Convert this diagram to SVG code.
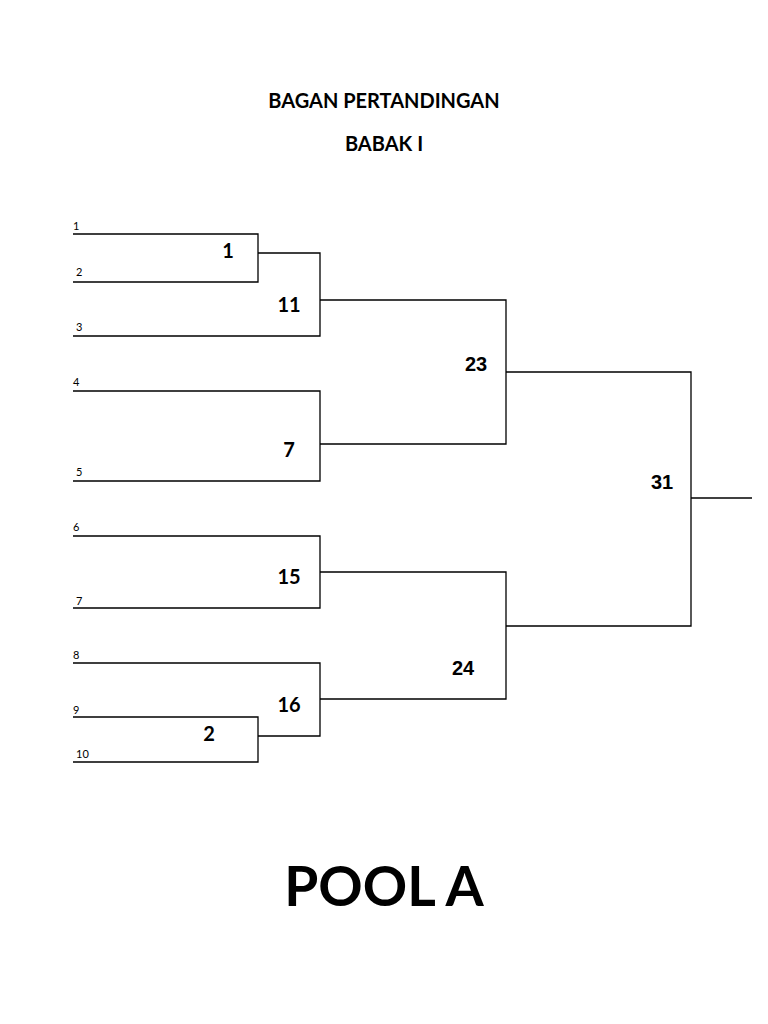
<svg xmlns="http://www.w3.org/2000/svg" width="768" height="1024" viewBox="0 0 768 1024">
<style>
.ln{stroke:#000;stroke-width:1.3;fill:none}
.t{font-family:Lato,"Liberation Sans",sans-serif;font-weight:bold;fill:#000}
.a{font-family:"Liberation Sans",Arial,sans-serif;font-weight:bold;fill:#000;font-size:20px;text-anchor:middle}
.m{font-size:20px;text-anchor:middle}
.s{font-family:Lato,"Liberation Sans",sans-serif;font-size:11px;fill:#000}
</style>
<rect width="768" height="1024" fill="#fff"/>
<g id="title">
<text class="t" x="384" y="108" font-size="20" text-anchor="middle">BAGAN PERTANDINGAN</text>
<text class="t" x="384" y="151" font-size="20" text-anchor="middle">BABAK I</text>
</g>
<g id="connectors" class="ln">
<path d="M73,234H258V282H73"/>
<path d="M258,253H320V336H73"/>
<path d="M320,300H506V444H320"/>
<path d="M73,391H320V481H73"/>
<path d="M506,372H691V626H506"/>
<path d="M691,498H752"/>
<path d="M73,536H320V608H73"/>
<path d="M320,572H506V699H320"/>
<path d="M73,663H320V736H258"/>
<path d="M73,717H258V762H73"/>
</g>
<g id="seeds">
<text class="s" x="73" y="230">1</text>
<text class="s" x="76" y="276">2</text>
<text class="s" x="76" y="331">3</text>
<text class="s" x="73" y="386">4</text>
<text class="s" x="76" y="476">5</text>
<text class="s" x="73" y="531">6</text>
<text class="s" x="76" y="605">7</text>
<text class="s" x="73" y="659">8</text>
<text class="s" x="73" y="714">9</text>
<text class="s" x="76" y="758">10</text>
</g>
<g id="m1"><text class="t m" x="228" y="258">1</text></g>
<g id="m11"><text class="t m" x="289" y="312">11</text></g>
<g id="m7"><text class="t m" x="289" y="457">7</text></g>
<g id="m15"><text class="t m" x="289" y="584">15</text></g>
<g id="m16"><text class="t m" x="289" y="712">16</text></g>
<g id="m2"><text class="t m" x="209" y="741">2</text></g>
<g id="m23"><text class="a" x="476" y="371">23</text></g>
<g id="m24"><text class="a" x="463" y="675">24</text></g>
<g id="m31"><text class="a" x="662" y="489">31</text></g>
<g id="pool"><text class="t" x="384" y="906" font-size="55" text-anchor="middle">POOL A</text></g>
</svg>
